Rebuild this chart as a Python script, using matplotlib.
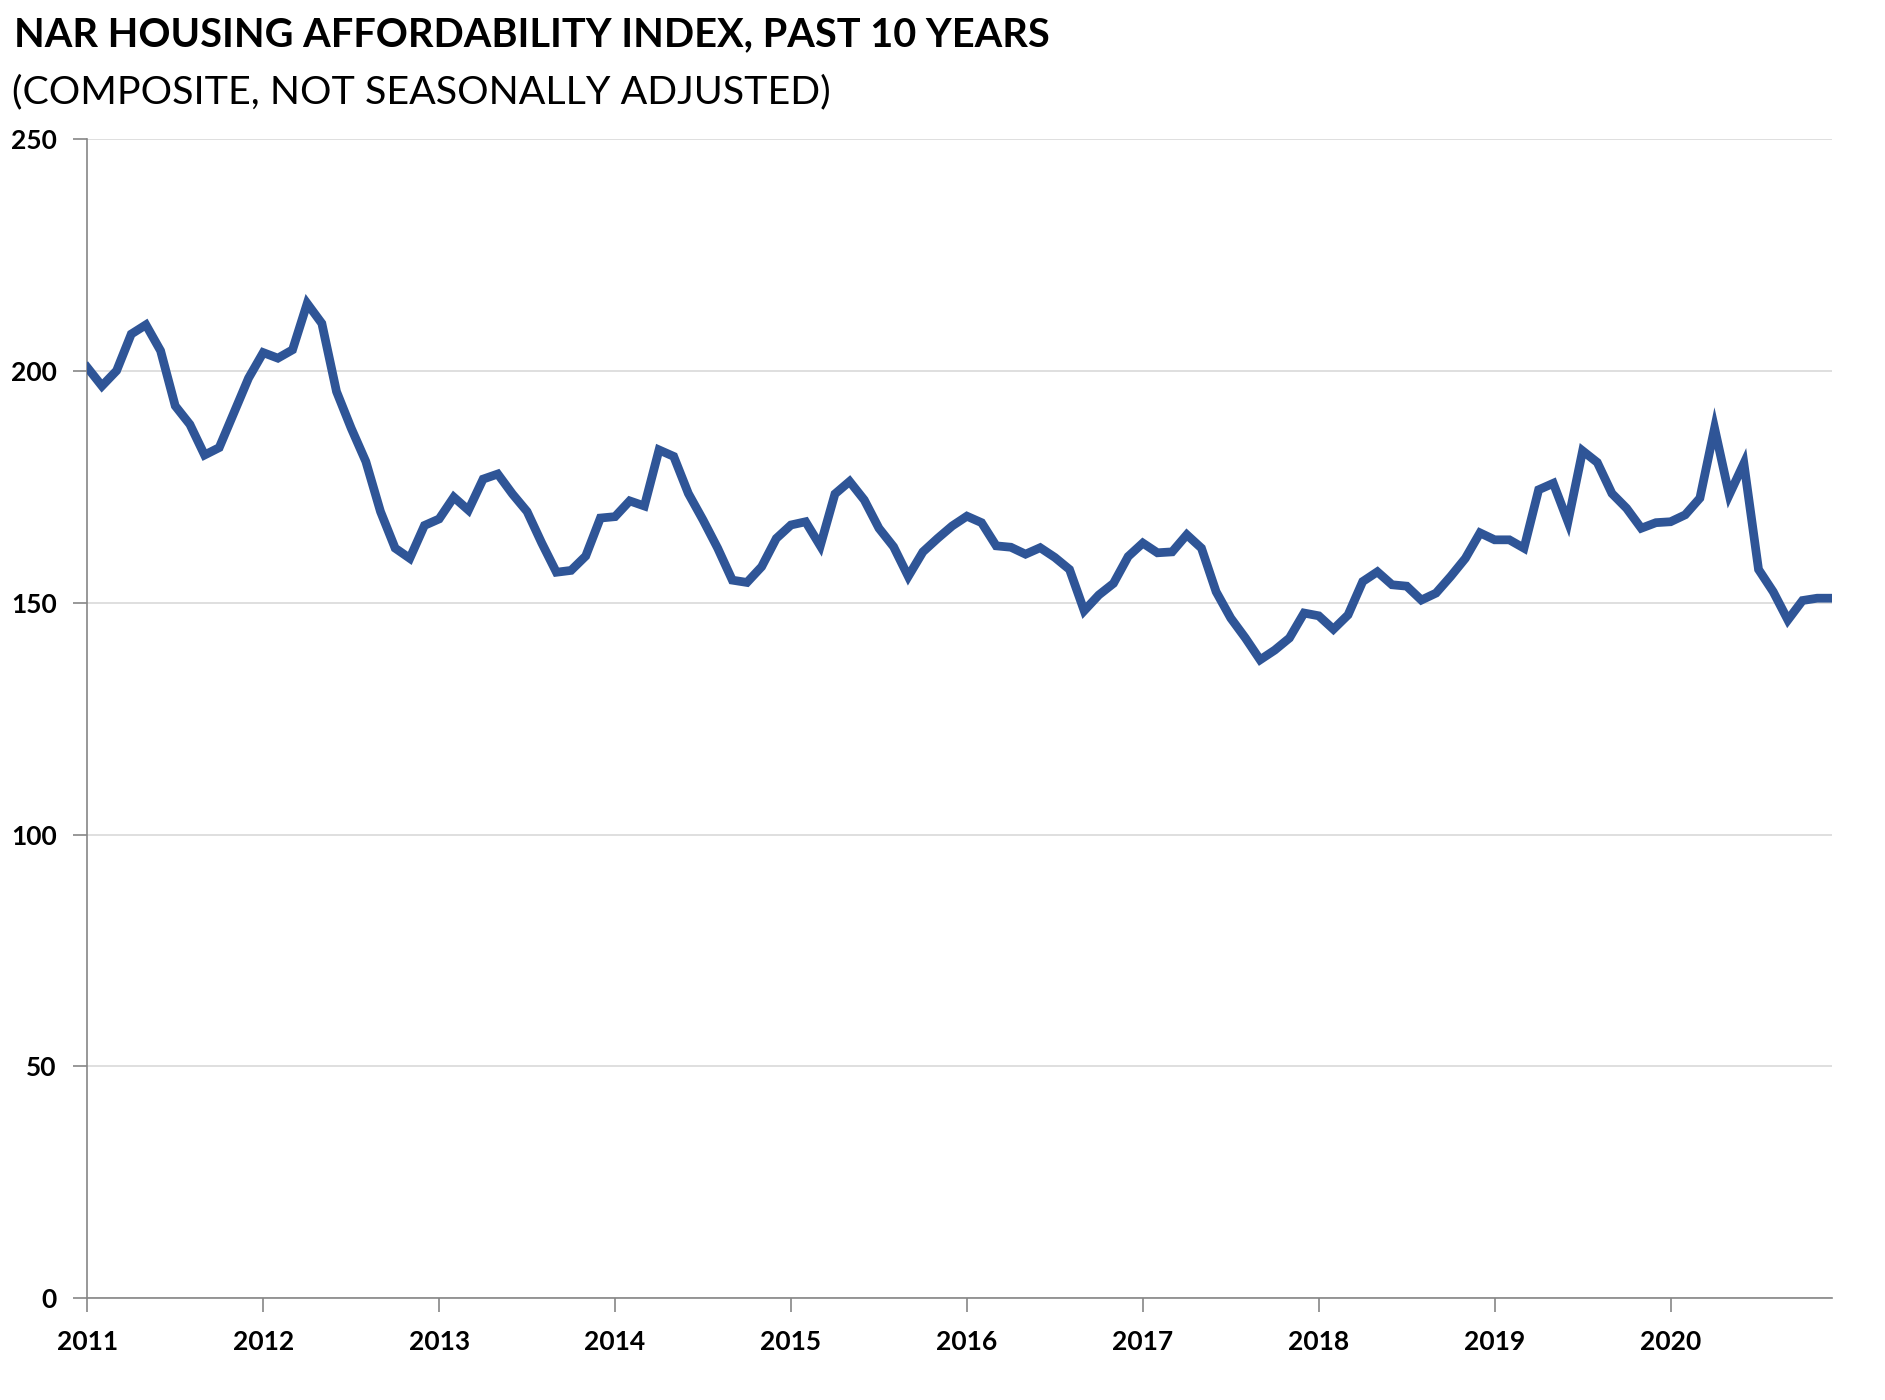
import numpy as np
import matplotlib.pyplot as plt

# NAR housing affordability index, monthly Jan 2011 - Dec 2020
years = [2011, 2012, 2013, 2014, 2015, 2016, 2017, 2018, 2019, 2020]
hai = [
    200.8, 196.8, 200.1, 208.0, 210.0, 204.4, 192.5, 188.5, 181.9, 183.5, 191.0, 198.5,  # 2011
    204.0, 202.8, 204.6, 214.6, 210.3, 195.6, 187.7, 180.5, 169.7, 161.8, 159.6, 166.7,  # 2012
    168.1, 172.8, 170.0, 176.7, 177.8, 173.5, 169.7, 162.9, 156.6, 157.0, 160.1, 168.3,  # 2013
    168.6, 172.0, 170.9, 183.0, 181.6, 173.6, 167.9, 161.8, 154.9, 154.4, 157.8, 163.9,  # 2014
    166.8, 167.5, 162.3, 173.5, 176.2, 172.2, 166.1, 162.1, 155.7, 161.0, 163.9, 166.6,  # 2015
    168.7, 167.3, 162.3, 162.0, 160.5, 161.9, 159.8, 157.2, 148.3, 151.7, 154.2, 160.0,  # 2016
    162.9, 160.8, 161.0, 164.7, 161.8, 152.4, 146.7, 142.4, 137.7, 139.8, 142.4, 147.8,  # 2017
    147.2, 144.3, 147.4, 154.6, 156.7, 153.9, 153.6, 150.6, 152.1, 155.7, 159.6, 165.1,  # 2018
    163.6, 163.6, 161.8, 174.4, 175.8, 167.5, 182.8, 180.3, 173.6, 170.4, 166.1, 167.3,  # 2019
    167.5, 169.0, 172.6, 187.7, 173.3, 180.1, 157.2, 152.4, 146.3, 150.5, 151.0, 151.0,  # 2020
]
yticks = [0, 50, 100, 150, 200, 250]

t = years[0] + np.arange(len(hai)) / 12.0

fnt = ['Lato', 'DejaVu Sans']
plt.rcParams['font.family'] = fnt

fig = plt.figure(figsize=(18.85, 14), dpi=100)
ax = fig.add_axes([0.0463, 0.0729, 0.9255, 0.8275])

ax.plot(t, hai, color='#2F5597', linewidth=6.3, solid_joinstyle='miter', zorder=3)

ax.set_xlim(t[0], t[-1])
ax.set_ylim(0, 250)
ax.set_yticks(yticks)
ax.set_xticks(years)
ax.set_xticklabels([str(y) for y in years])
ax.grid(axis='y', color='#d9d9d9', linewidth=1.2)
ax.set_axisbelow(True)

for s in ['top', 'right']:
    ax.spines[s].set_visible(False)
for s in ['left', 'bottom']:
    ax.spines[s].set_color('#868686')
    ax.spines[s].set_linewidth(1.2)

ax.tick_params(axis='both', direction='out', length=10, width=1.2, color='#868686',
               labelsize=19)
ax.tick_params(axis='y', pad=12)
ax.tick_params(axis='x', pad=13)
for lab in ax.get_xticklabels() + ax.get_yticklabels():
    lab.set_fontweight('bold')

fig.text(0.0075, 1 - 46 / 1400, 'NAR HOUSING AFFORDABILITY INDEX, PAST 10 YEARS',
         fontsize=28.6, fontweight='bold', va='baseline', ha='left')
fig.text(0.0065, 1 - 103 / 1400, '(COMPOSITE, NOT SEASONALLY ADJUSTED)',
         fontsize=28.4, va='baseline', ha='left')

fig.savefig('out.png', dpi=100)
